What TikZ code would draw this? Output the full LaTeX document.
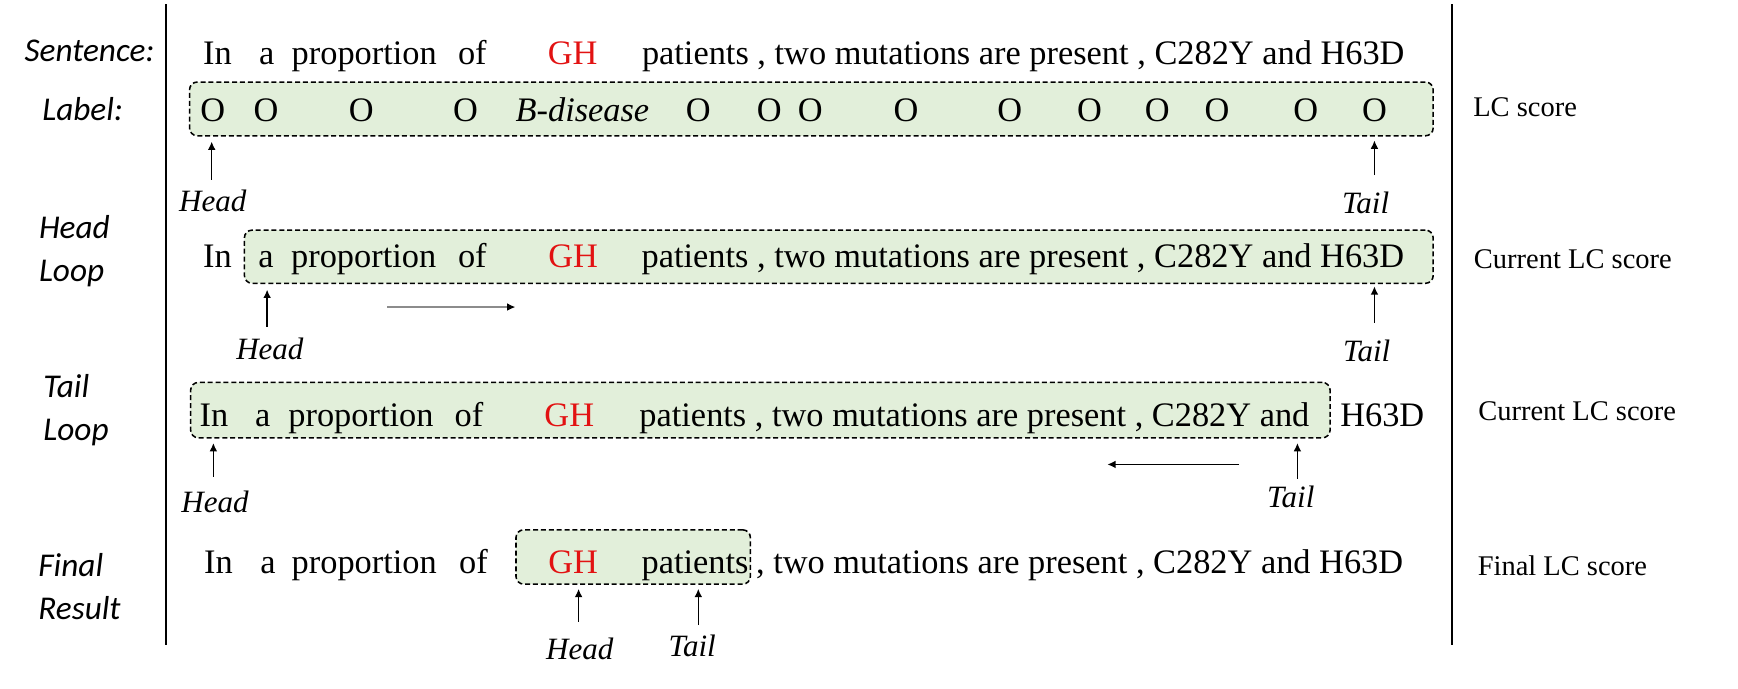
\documentclass[tikz,border=0pt]{standalone}
\usepackage{fontspec}
\setmainfont{Liberation Serif}
\newfontfamily\labfont{Carlito}
\usetikzlibrary{arrows.meta}
\definecolor{boxgreen}{RGB}{226,239,218}
\definecolor{ghred}{RGB}{226,18,18}
\newcommand\mainsize{\fontsize{31}{37}\selectfont}
\newcommand\sidesize{\fontsize{25.7}{30}\selectfont}
\newcommand\tagsize{\fontsize{28}{32}\selectfont}
\newcommand\leftsize{\fontsize{30}{39}\selectfont}
\tikzset{
 wd/.style={anchor=base west, inner sep=0pt, font=\mainsize},
 ghw/.style={wd, text=ghred},
 oo/.style={anchor=base, inner sep=0pt, font=\mainsize},
 gbox/.style={draw, line width=1.4pt, dash pattern=on 4.5pt off 2.6pt, rounded corners=7pt, fill=boxgreen, inner sep=0pt},
 side/.style={anchor=west, inner sep=0pt, font=\labfont\itshape\leftsize, align=left},
 score/.style={anchor=west, inner sep=0pt, font=\sidesize},
 tag/.style={inner sep=0pt, font=\itshape\tagsize},
 arr/.style={-{Latex[length=7.5pt,width=7pt]}, line width=1.3pt},
 rulel/.style={line width=1.4pt}
}
\begin{document}
\begin{tikzpicture}[x=1pt,y=-1pt]
\useasboundingbox (0,0) rectangle (1568,621.6);
% separators
\draw[rulel] (150,4) -- (150,582);
\draw[rulel] (1310,4) -- (1310,582);
% left labels
\node[side] (lsent) at (22,46) {Sentence:};
\node[side] (llab) at (38,98) {Label:};
\node[side] (lhead) at (35,226.5) {Head\\Loop};
\node[side] (ltail) at (39,370) {Tail\\Loop};
\node[side] (lfin) at (34.5,529.5) {Final\\Result};
% boxes
\node[gbox, minimum width=1122pt, minimum height=48.5pt] (b2) at (732,98.25) {};
\node[gbox, minimum width=1072.5pt, minimum height=48pt] (b3) at (756.75,231.6) {};
\node[gbox, minimum width=1028pt, minimum height=50pt] (b4) at (686,370) {};
\node[gbox, minimum width=211.5pt, minimum height=49pt] (b5) at (571.25,502.5) {};
% row 1 sentence
\node[wd] (s1a) at (183,58) {In};
\node[wd] (s1b) at (233.5,58) {a};
\node[wd] (s1c) at (263,58) {proportion};
\node[wd] (s1d) at (413,58) {of};
\node[ghw] (s1e) at (494,58) {GH};
\node[wd] (s1f) at (579,58) {patients , two mutations are present , C282Y and H63D};
% row 2 labels
\node[oo] (o1) at (192,110) {O};
\node[oo] (o2) at (240,110) {O};
\node[oo] (o3) at (326,110) {O};
\node[oo] (o4) at (420,110) {O};
\node[wd, font=\mainsize\itshape] (o5) at (465,110) {B-disease};
\node[oo] (o6) at (630,110) {O};
\node[oo] (o7) at (694,110) {O};
\node[oo] (o8) at (731,110) {O};
\node[oo] (o9) at (817.5,110) {O};
\node[oo] (o10) at (911,110) {O};
\node[oo] (o11) at (983,110) {O};
\node[oo] (o12) at (1044,110) {O};
\node[oo] (o13) at (1098,110) {O};
\node[oo] (o14) at (1178,110) {O};
\node[oo] (o15) at (1240,110) {O};
\node[score] (sc1) at (1329,97) {LC score};
% row 1 head/tail
\node[tag] (h1) at (192,181) {Head};
\node[tag] (t1) at (1232,183) {Tail};
\coordinate (h1s) at (191,162);
\coordinate (t1s) at (1240,158);
\draw[arr, shorten >=4.5pt] (h1s) -- (h1s |- b2.south);
\draw[arr, shorten >=3.5pt] (t1s) -- (t1s |- b2.south);
% row 3 head loop
\node[wd] (s3a) at (183,241) {In};
\node[wd] (s3b) at (233,241) {a};
\node[wd] (s3c) at (262.5,241) {proportion};
\node[wd] (s3d) at (413,241) {of};
\node[ghw] (s3e) at (494.5,241) {GH};
\node[wd] (s3f) at (578.7,241) {patients , two mutations are present , C282Y and H63D};
\node[score] (sc3) at (1329.6,234) {Current LC score};
\node[tag] (h3) at (243.5,315) {Head};
\node[tag] (t3) at (1233,317) {Tail};
\coordinate (h3s) at (241,295);
\coordinate (t3s) at (1240,291);
\draw[arr, shorten >=5pt] (h3s) -- (h3s |- b3.south);
\draw[arr, shorten >=2pt] (t3s) -- (t3s |- b3.south);
\coordinate (m3a) at (349.5,277);
\coordinate (m3b) at (465,277);
\draw[line width=1.3pt, draw=black!45, -{Latex[length=7.5pt,width=7pt,color=black]}] (m3a) -- (m3b);
% row 4 tail loop
\node[wd] (s4a) at (180,384.5) {In};
\node[wd] (s4b) at (230,384.5) {a};
\node[wd] (s4c) at (260,384.5) {proportion};
\node[wd] (s4d) at (410,384.5) {of};
\node[ghw] (s4e) at (491,384.5) {GH};
\node[wd] (s4f) at (576.7,384.5) {patients , two mutations are present , C282Y and};
\node[wd] (s4g) at (1209,384.5) {H63D};
\node[score] (sc4) at (1333.5,371) {Current LC score};
\node[tag] (h4) at (194,453) {Head};
\node[tag] (t4) at (1164.5,448) {Tail};
\coordinate (h4s) at (192.5,430);
\coordinate (t4s) at (1170.5,432);
\draw[arr, shorten >=4pt] (h4s) -- (h4s |- b4.south);
\draw[arr, shorten >=4pt] (t4s) -- (t4s |- b4.south);
\coordinate (m4a) at (1118,419);
\coordinate (m4b) at (999,419);
\draw[arr] (m4a) -- (m4b);
% row 5 final result
\node[wd] (s5a) at (184,517) {In};
\node[wd] (s5b) at (234.6,517) {a};
\node[wd] (s5c) at (263,517) {proportion};
\node[wd] (s5d) at (414,517) {of};
\node[ghw] (s5e) at (494.5,517) {GH};
\node[wd] (s5f) at (578.7,517) {patients};
\node[wd] (s5g) at (682,517) {, two mutations are present , C282Y and H63D};
\node[score] (sc5) at (1333,510) {Final LC score};
\node[tag] (h5) at (523,585) {Head};
\node[tag] (t5) at (624.5,583) {Tail};
\coordinate (h5s) at (522,561);
\coordinate (t5s) at (630,564);
\draw[arr, shorten >=3.5pt] (h5s) -- (h5s |- b5.south);
\draw[arr, shorten >=3.5pt] (t5s) -- (t5s |- b5.south);
\end{tikzpicture}
\end{document}
